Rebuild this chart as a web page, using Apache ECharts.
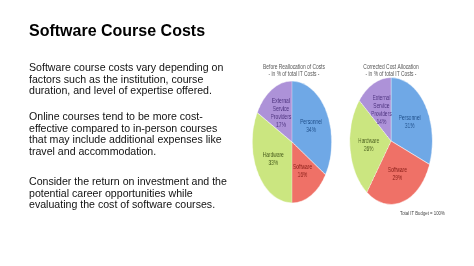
<!DOCTYPE html>
<html><head><meta charset="utf-8">
<script src="https://cdn.jsdelivr.net/npm/echarts@6/dist/echarts.min.js"></script>
<style>
html,body{margin:0;padding:0;background:#fff;}
#main{position:absolute;left:0;top:0;width:474px;height:266px;}
#pies{position:absolute;left:250px;top:0;width:345px;height:266px;transform-origin:0 0;transform:scaleX(0.65);}
</style></head>
<body>
<div id="main"></div>
<div id="pies"></div>
<script>
const slideTitle = "Software Course Costs";
const paragraphs = [
  "Software course costs vary depending on\nfactors such as the institution, course\nduration, and level of expertise offered.",
  "Online courses tend to be more cost-\neffective compared to in-person courses\nthat may include additional expenses like\ntravel and accommodation.",
  "Consider the return on investment and the\npotential career opportunities while\nevaluating the cost of software courses."
];
const categories = ["Personnel", "Software", "Hardware", "External\nService\nProviders"];
const beforeValues = [34, 16, 33, 17];
const afterValues = [31, 29, 26, 14];
const beforeTitle = "Before Reallocation of Costs\n- in % of total IT Costs -";
const afterTitle = "Corrected Cost Allocation\n- in % of total IT Costs -";
const footnote = "Total IT Budget = 100%";

const colors = ["#6fa8e6", "#ef7167", "#cbe680", "#ad92d8"];
const labelColors = ["#1f4f8a", "#8a1f18", "#4d6220", "#4f3580"];

const main = echarts.init(document.getElementById('main'));
const paraTops = [62, 111, 176];
main.setOption({
  backgroundColor: '#fff',
  graphic: [
    {type:'text', x:29, y:24, style:{text:slideTitle, font:'bold 16px "Liberation Sans", Arial', fill:'#000'}},
    ...paragraphs.map((p,i)=>({type:'text', x:29, y:paraTops[i], style:{text:p, font:'10.6px "Liberation Sans", Arial', lineHeight:11.8, fill:'#111'}})),
    {type:'text', x:294, y:63, scaleX:0.75, style:{text:beforeTitle, font:'6.5px "Liberation Sans", Arial', fill:'#555', textAlign:'center', lineHeight:7.7}},
    {type:'text', x:391, y:63, scaleX:0.75, style:{text:afterTitle, font:'6.5px "Liberation Sans", Arial', fill:'#555', textAlign:'center', lineHeight:7.7}},
    {type:'text', x:400, y:210, scaleX:0.78, style:{text:footnote, font:'5.5px "Liberation Sans", Arial', fill:'#444'}}
  ]
});

function mk(values){
  return categories.map((c,i)=>({name:c, value:values[i], itemStyle:{color:colors[i]}, label:{color:labelColors[i]}}));
}
const pies = echarts.init(document.getElementById('pies'));
const labelCfg = {show:true, position:'inner', formatter: p => p.name + '\n' + p.value + '%', fontSize:7.5, lineHeight:8, fontFamily:'"Liberation Sans", Arial'};
pies.setOption({
  series: [
    {type:'pie', center:[64.6,142], radius:[0,61], startAngle:90, clockwise:true, silent:true, animation:false,
     label:labelCfg, labelLine:{show:false}, itemStyle:{borderColor:'#fff', borderWidth:0.5}, data: mk(beforeValues)},
    {type:'pie', center:[217,141], radius:[0,63.5], startAngle:90, clockwise:true, silent:true, animation:false,
     label:labelCfg, labelLine:{show:false}, itemStyle:{borderColor:'#fff', borderWidth:0.5}, data: mk(afterValues)}
  ]
});
</script>
</body></html>
